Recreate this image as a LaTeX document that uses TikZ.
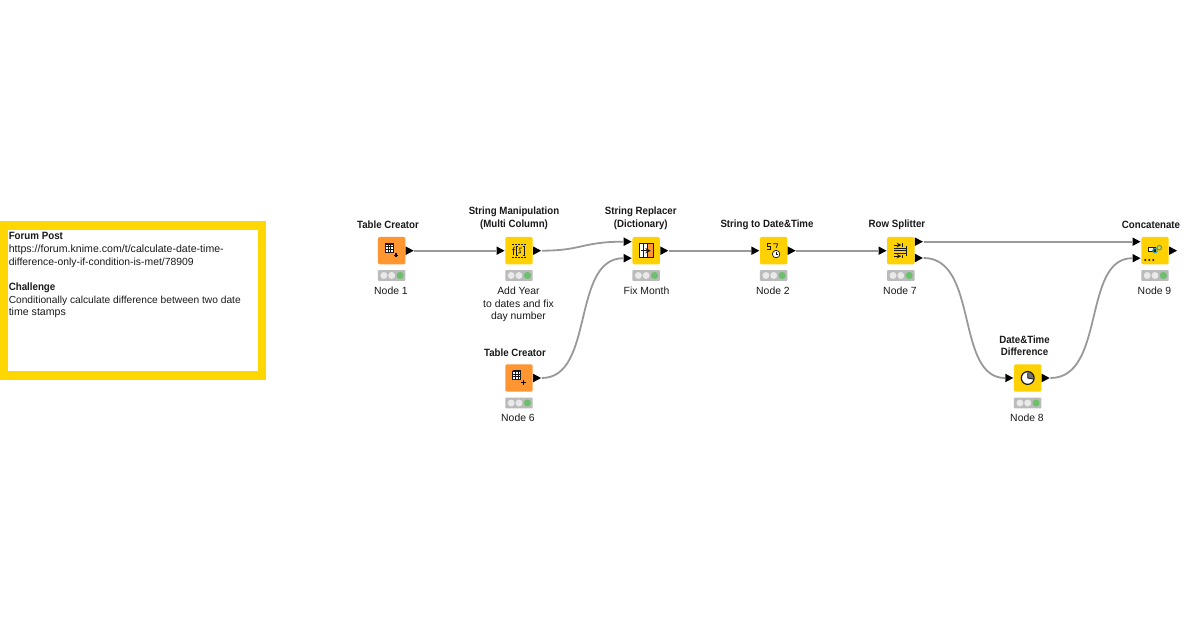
\documentclass[tikz,border=0pt]{standalone}
\usepackage{fontspec}
\setmainfont{Liberation Sans}[BoldFeatures={FakeStretch=0.92}]
\usetikzlibrary{shapes.geometric}
\definecolor{boxyellow}{HTML}{FFD700}
\definecolor{nodeyellow}{HTML}{FFD100}
\definecolor{nodeorange}{HTML}{FF9632}
\definecolor{wire}{HTML}{999999}
\definecolor{lightgray}{HTML}{BBBBBB}
\definecolor{lamp}{HTML}{E9E9E9}
\definecolor{lampgreen}{HTML}{6CC06C}
\definecolor{ink}{HTML}{1A1A1A}
\definecolor{linkblue}{HTML}{3C9FB8}
\tikzset{
 x=0.75pt,y=-0.75pt,
 block/.style={minimum size=20.6pt,inner sep=0pt,rounded corners=1.5pt,fill=#1},
 portin/.style={shape=isosceles triangle,isosceles triangle stretches,shape border rotate=0,fill=black,inner sep=0pt,minimum width=6.4pt,minimum height=6pt},
 wireline/.style={draw=wire,line width=1.35pt},
 title/.style={font=\fontsize{7.9pt}{9.6pt}\selectfont\bfseries,align=center,inner sep=0pt,text=ink},
 caption/.style={font=\fontsize{7.8pt}{9.6pt}\selectfont,align=center,inner sep=0pt,text=ink},
 icon/.style={line width=0.55pt,draw=ink},
}
\newcommand{\lights}[3]{% name, x, y(centre of status bar)
 \node[fill=lightgray,minimum width=20.6pt,minimum height=8pt,inner sep=0pt,rounded corners=0.6pt] (#1) at (#2,#3) {};
 \fill[lamp] (#2-7.8,#3) circle[radius=2.6pt];
 \fill[lamp] (#2,#3) circle[radius=2.6pt];
 \fill[lampgreen] (#2+8.4,#3) circle[radius=2.7pt];
}
\newcommand{\gridicon}[2]{% table creator icon, at block centre
 \begin{scope}[shift={(#1,#2)}]
 \draw[icon,fill=white] (-6.3,-6.7) rectangle (1.8,1.4);
 \draw[icon] (-3.6,-6.7)--(-3.6,1.4) (-0.9,-6.7)--(-0.9,1.4) (-6.3,-4)--(1.8,-4) (-6.3,-1.3)--(1.8,-1.3);
 \draw[line width=1.3pt,draw=ink] (-6.3,-6.7)--(1.8,-6.7);
 \draw[line width=0.9pt,draw=black] (2,4.5)--(6.6,4.5) (4.3,2.2)--(4.3,6.8);
 \end{scope}}
\begin{document}
\begin{tikzpicture}
\useasboundingbox (0,0) rectangle (1200,630);
\fill[white] (0,0) rectangle (1200,630);
% annotation
\fill[boxyellow] (0,221.5) rectangle (265.5,380);
\node[fill=white,inner sep=0pt,anchor=north west,minimum width=186.8pt,minimum height=105.7pt] (note) at (8.2,230) {};
\node[anchor=north west,inner sep=0pt,align=left,text=ink,font=\fontsize{7.95pt}{9.55pt}\selectfont] (notetext) at (8.5,232) {\textbf{Forum Post}\\https://forum.knime.com/t/calculate-date-time-\\{\fontsize{7.78pt}{9.55pt}\selectfont difference-only-if-condition-is-met/78909}\\[9.55pt]\textbf{Challenge}\\{\fontsize{7.66pt}{9.55pt}\selectfont Conditionally calculate difference between two date}\\time stamps};
% blocks
\node[block=nodeorange] (n1) at (391.7,250.7) {};
\node[block=nodeyellow] (n3) at (519,250.7) {};
\node[block=nodeyellow] (n4) at (646.2,250.7) {};
\node[block=nodeyellow] (n2) at (773.7,250.7) {};
\node[block=nodeyellow] (n7) at (900.8,250.7) {};
\node[block=nodeyellow] (n9) at (1155,250.7) {};
\node[block=nodeorange] (n6) at (519,378) {};
\node[block=nodeyellow] (n8) at (1027.7,378) {};
% ports
\node[portin,anchor=west] (n1o) at (405.4,250.7) {};
\node[portin,anchor=east] (n3i) at (505.2,250.7) {};
\node[portin,anchor=west] (n3o) at (532.8,250.7) {};
\node[portin,anchor=east] (n4a) at (632.4,241.7) {};
\node[portin,anchor=east] (n4b) at (632.4,258.2) {};
\node[portin,anchor=west] (n4o) at (660,250.7) {};
\node[portin,anchor=east] (n2i) at (760,250.7) {};
\node[portin,anchor=west] (n2o) at (787.4,250.7) {};
\node[portin,anchor=east] (n7i) at (887.2,250.7) {};
\node[portin,anchor=west] (n7a) at (914.6,241.7) {};
\node[portin,anchor=west] (n7b) at (914.6,258) {};
\node[portin,anchor=east] (n9a) at (1141.2,241.7) {};
\node[portin,anchor=east] (n9b) at (1141.2,258.2) {};
\node[portin,anchor=west] (n9o) at (1168.8,250.7) {};
\node[portin,anchor=west] (n6o) at (532.8,378) {};
\node[portin,anchor=east] (n8i) at (1014,378) {};
\node[portin,anchor=west] (n8o) at (1041.4,378) {};
% connectors
\draw[wireline] (n1o.east) -- (n3i.west);
\draw[wireline] (n3o.east) .. controls (582,250.7) and (582,241.7) .. (n4a.west);
\draw[wireline] (n6o.east) .. controls (595,378) and (571,258.2) .. (n4b.west);
\draw[wireline] (n4o.east) -- (n2i.west);
\draw[wireline] (n2o.east) -- (n7i.west);
\draw[wireline] (n7a.east) -- (n9a.west);
\draw[wireline] (n7b.east) .. controls (979,258) and (955,378) .. (n8i.west);
\draw[wireline] (n8o.east) .. controls (1106,378) and (1082,258.2) .. (n9b.west);
% status
\lights{s1}{391.7}{275.5}
\lights{s3}{519}{275.5}
\lights{s4}{646.2}{275.5}
\lights{s2}{773.7}{275.5}
\lights{s7}{900.8}{275.5}
\lights{s9}{1155}{275.5}
\lights{s6}{519}{403}
\lights{s8}{1027.7}{403}
% titles
\node[title] (t1) at (388,225) {Table Creator};
\node[title] (t3) at (514,218.5) {String Manipulation\\(Multi Column)};
\node[title] (t4) at (640.8,218.5) {String Replacer\\(Dictionary)};
\node[title] (t2) at (767,225) {String to Date\&Time};
\node[title] (t7) at (897,225) {Row Splitter};
\node[title] (t9) at (1151,225) {Concatenate};
\node[title] (t6) at (515,352.3) {Table Creator};
\node[title] (t8) at (1024.5,345.8) {Date\&Time\\Difference};
% captions
\node[caption] (c1) at (391,290.7) {Node 1};
\node[caption,anchor=north] (c3) at (518.5,286.5) {Add Year\\to dates and fix\\day number};
\node[caption] (c4) at (646.5,290.7) {Fix Month};
\node[caption] (c2) at (773,290.7) {Node 2};
\node[caption] (c7) at (900,290.7) {Node 7};
\node[caption] (c9) at (1154.5,290.7) {Node 9};
\node[caption] (c6) at (518,418) {Node 6};
\node[caption] (c8) at (1027,418) {Node 8};
% icons
\gridicon{391.7}{250.7}
\gridicon{519}{378}
% string manipulation
\begin{scope}[shift={(519,250.7)}]
 \draw[icon,dash pattern=on 1.4pt off 0.9pt] (-7,-6.8)--(7,-6.8) (-7,6.6)--(7,6.6);
 \draw[icon] (-1.2,-4.5)--(-2.7,-4.5)--(-2.7,4.5)--(-1.2,4.5) (3.7,-4.5)--(5.2,-4.5)--(5.2,4.5)--(3.7,4.5);
 \draw[icon] (2.9,-2.6) .. controls (1.2,-4) and (-0.9,-2.4) .. (0.9,-0.4) .. controls (2.9,1.2) and (1,3.7) .. (-0.9,2.3);
 \draw[icon] (-5.6,4.5)--(-5.6,-2) .. controls (-5.6,-3.6) and (-4.6,-3.6) .. (-3.9,-3.6) (-7,-1)--(-4,-1);
\end{scope}
% string replacer
\begin{scope}[shift={(646.2,250.7)}]
 \fill[nodeorange] (1.5,-7) rectangle (7,7);
 \fill[white] (-7,-7) rectangle (1.5,7);
 \draw[line width=0.8pt,draw=ink] (-7,-7) rectangle (7,7) (-3,-7)--(-3,7) (1.5,-7)--(1.5,7);
 \draw[line width=0.8pt,draw=ink,-stealth] (-5,0)--(4.5,0);
\end{scope}
% string to date&time
\begin{scope}[shift={(773.7,250.7)}]
 \draw[icon] (-3,-7) -- (-6.5,-7) -- (-6.5,-4.3) -- (-3,-4.3) -- (-3,-1.5) -- (-6.5,-1.5);
 \draw[icon] (-0.5,-7) -- (4,-7) -- (2.5,-3);
 \draw[icon,fill=white] (2.4,3.4) circle[radius=2.8pt];
 \draw[icon] (2.4,1)--(2.4,3.4)--(4,3.4);
\end{scope}
% row splitter
\begin{scope}[shift={(900.8,250.7)}]
 \draw[icon,-stealth] (-7,-5.7)--(0.5,-5.7);
 \draw[icon] (1.5,-7.3)--(1.5,-4.1);
 \draw[icon] (-7,-2.6)--(5.5,-2.6) (-7,0)--(5.5,0) (-7,2.6)--(5.5,2.6);
 \draw[icon] (5.3,-4.5)--(5.3,5);
 \draw[icon,-stealth] (-7,5.5)--(0.5,5.5);
 \draw[icon] (1.5,3.9)--(1.5,7.1);
\end{scope}
% concatenate
\begin{scope}[shift={(1155,250.7)}]
 \fill[white] (-7,-3) rectangle (-2,1);
 \draw[draw=ink,line width=0.5pt] (-7,-3) rectangle (0.7,1);
 \fill[ink] (-2,-3) rectangle (0.7,1);
 \draw[draw=linkblue,line width=0.8pt] (0,0) circle[radius=1.7pt] (4.3,-3) circle[radius=1.7pt];
 \draw[draw=linkblue,line width=0.8pt] (1.4,-1.2)--(3,-2);
 \fill[ink] (-9.7,9.3) circle[radius=0.8pt] (-5.7,9.3) circle[radius=0.8pt] (-1.7,9.3) circle[radius=0.8pt];
\end{scope}
% date time difference
\begin{scope}[shift={(1027.7,378)}]
 \fill[white] (0,0) circle[radius=4.8pt];
 \fill[black!55] (0,0) -- (0,-6) arc[start angle=-90,end angle=15,radius=6] -- cycle;
 \draw[line width=0.9pt,draw=ink] (0,0) circle[radius=4.8pt];
 \draw[line width=0.6pt,draw=ink] (0,-5)--(0,0)--(5,1);
\end{scope}
\end{tikzpicture}
\end{document}
